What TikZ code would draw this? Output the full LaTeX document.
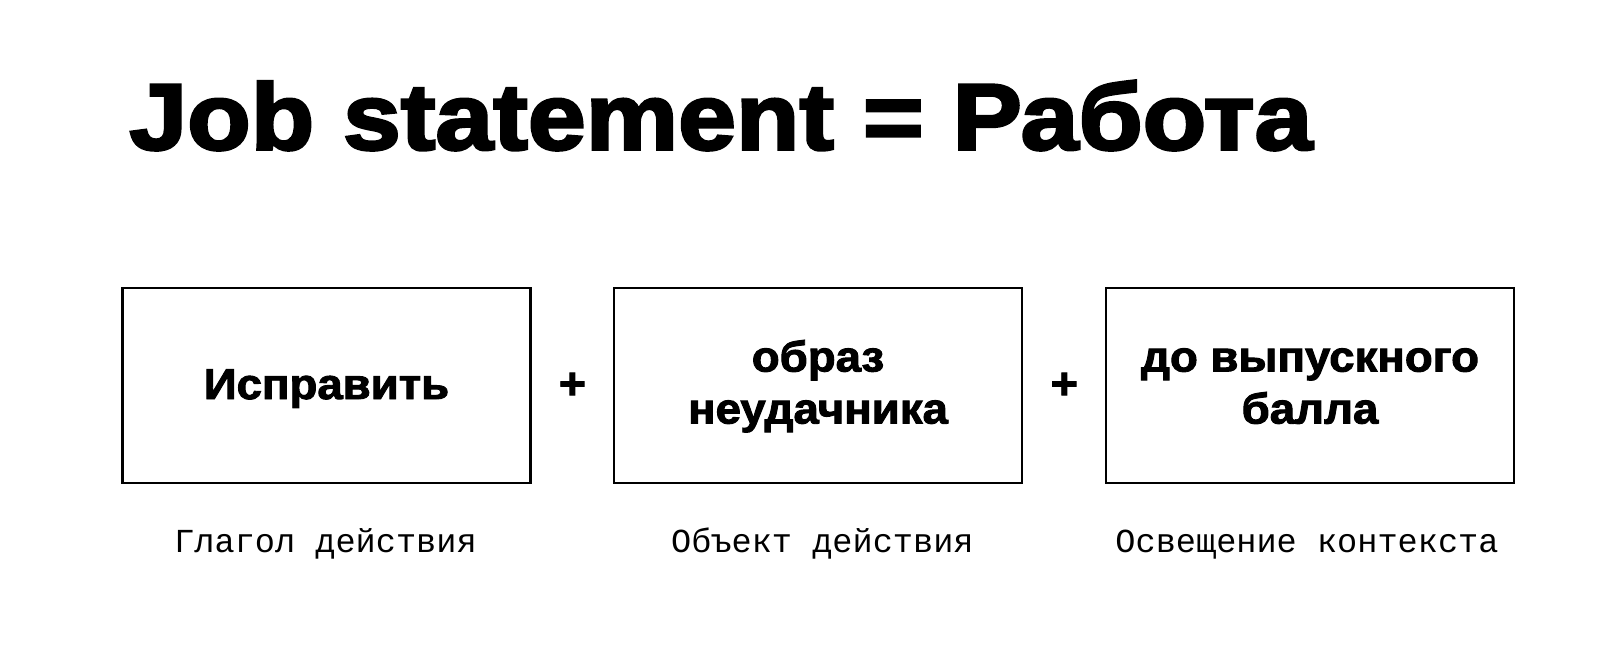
\documentclass[tikz,border=0pt]{standalone}
\usepackage{fontspec}
\setmainfont{Liberation Sans}
\newfontfamily\heavyfont[FakeBold=3,FakeStretch=1.106]{Liberation Sans Bold}
\newfontfamily\boxfont[FakeBold=2.2,FakeStretch=1.06]{Liberation Sans Bold}
\newfontfamily\labelfont{Liberation Mono}
\begin{document}
\begin{tikzpicture}[x=0.5pt,y=-0.5pt,
  stepbox/.style={draw=black,line width=1.2pt,minimum width=204pt,minimum height=97.5pt,
    inner sep=0pt},
  boxtext/.style={font=\boxfont\fontsize{21.5}{24}\selectfont,inner sep=0pt,anchor=base},
  plus/.style={font=\boxfont\fontsize{22}{24}\selectfont,inner sep=0pt},
  caption/.style={font=\labelfont\fontsize{16.8}{18}\selectfont,inner sep=0pt,anchor=base},
  title/.style={font=\heavyfont\fontsize{47}{50}\selectfont,inner sep=0pt,anchor=base west}]
\useasboundingbox[fill=white] (0,0) rectangle (1600,658);
\node[title] (t) at (129,149.5) {Job statement = Работа};
\node[stepbox] (b1) at (326.5,385.2) {};
\node[stepbox] (b2) at (818,385.2) {};
\node[stepbox] (b3) at (1310,385.2) {};
\node[boxtext] (b1t) at (b1.center |- 0,399) {Исправить};
\node[boxtext] (b2t1) at (b2.center |- 0,371.5) {образ};
\node[boxtext] (b2t2) at (b2.center |- 0,423.5) {неудачника};
\node[boxtext] (b3t1) at (b3.center |- 0,371.5) {до выпускного};
\node[boxtext] (b3t2) at (b3.center |- 0,423.5) {балла};
\node[plus] (p1) at (572.4,385.7) {+};
\node[plus] (p2) at (1064.3,385.7) {+};
\node[caption] (c1) at (325.5,552.5) {Глагол действия};
\node[caption] (c2) at (822.4,552.5) {Объект действия};
\node[caption] (c3) at (1307,552.5) {Освещение контекста};
\end{tikzpicture}
\end{document}
